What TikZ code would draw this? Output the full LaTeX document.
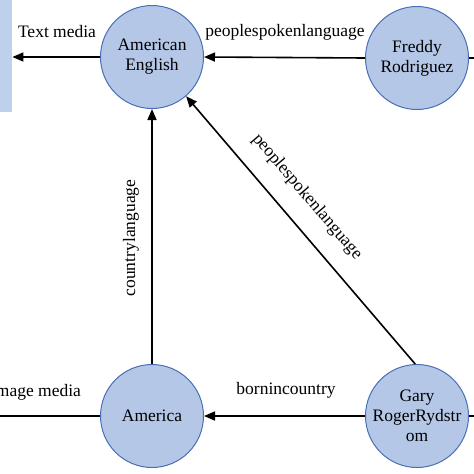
\documentclass[tikz,border=0pt]{standalone}
\usepackage{fontspec}
\setmainfont{Liberation Serif}
\usetikzlibrary{arrows.meta}
\definecolor{nodefill}{HTML}{B4C7E7}
\definecolor{nodeline}{HTML}{4A6FB5}
\definecolor{boxfill}{HTML}{BDD0EC}
\begin{document}
\begin{tikzpicture}[x=1pt,y=-1pt,
  ent/.style={circle, draw=nodeline, line width=1pt, fill=nodefill, minimum size=103pt, inner sep=0pt, align=center, font=\fontsize{17.5}{20}\selectfont},
  link/.style={line width=1.6pt, draw=black},
  rel/.style={link, -{Triangle[length=11pt,width=9pt]}},
  lbl/.style={font=\fontsize{17.5}{20}\selectfont, inner sep=0pt}]
\useasboundingbox (0,0) rectangle (474,474);
\begin{scope}
\clip (0,0) rectangle (474,474);
\node[fill=boxfill, minimum width=12pt, minimum height=112pt, inner sep=0pt, anchor=north west] (tm) at (0,0) {};
\node[ent] (ae) at (152,57) {American\\English};
\node[ent] (fr) at (417,58) {Freddy\\Rodriguez};
\node[ent] (am) at (152,416) {America};
\node[ent] (ga) at (417,416) {Gary\\RogerRydstr\\om};
\coordinate (imgend) at (-2,416);
\coordinate (frout) at (476,58);
\coordinate (gaout) at (476,416);
\draw[rel] (ae.west) -- (tm.east |- ae.west);
\draw[rel] (fr.west) -- (ae.east);
\draw[rel] (am) -- (ae);
\draw[rel] (ga.92) -- (ae.-49);
\draw[rel] (ga) -- (am);
\draw[link] (am.west) -- (imgend);
\draw[link] (fr.east) -- (frout);
\draw[link] (ga.east) -- (gaout);
\node[lbl] (l1) at (57,32) {Text media};
\node[lbl] (l2) at (285,32) {peoplespokenlanguage};
\node[lbl, rotate=90] (l3) at (131,238) {countrylanguage};
\node[lbl, rotate=-49.5] (l4) at (307,197) {peoplespokenlanguage};
\node[lbl] (l5) at (286,390) {bornincountry};
\node[lbl] (l6) at (35.5,392) {Image media};
\end{scope}
\end{tikzpicture}
\end{document}
